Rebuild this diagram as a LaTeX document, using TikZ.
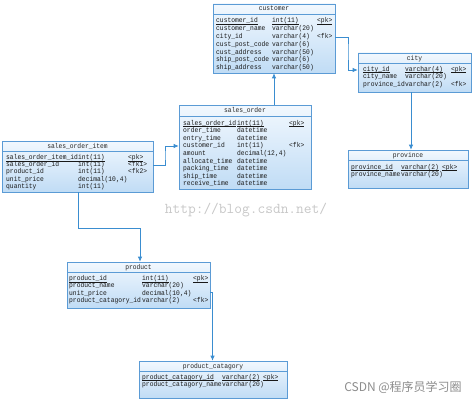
\documentclass[tikz,border=0pt]{standalone}
\usepackage{fontspec}
\newfontfamily\erfont{Liberation Mono}[FakeStretch=0.9]
\newfontfamily\cjkfont{Noto Sans CJK SC}
\usetikzlibrary{arrows.meta,fit}
\definecolor{bordc}{HTML}{5B9BD5}
\definecolor{linec}{HTML}{3A8DD0}
\definecolor{topc}{HTML}{F2F8FE}
\definecolor{botc}{HTML}{C0DCF5}
\newcommand\ul[1]{\underline{\smash{#1}}}
\tikzset{
  tbox/.style={draw=bordc, line width=0.6pt, top color=topc, bottom color=botc, inner sep=0pt},
  ttl/.style={font=\erfont\fontsize{7}{8}\selectfont, inner sep=0pt, anchor=base, text=black!85},
  fld/.style={font=\erfont\fontsize{7}{8}\selectfont, anchor=base west, inner sep=0pt, text=black!90},
  conn/.style={draw=linec, line width=0.7pt, -{Latex[length=5pt,width=4.5pt]}},
  sepl/.style={draw=bordc, line width=0.5pt},
  wmark/.style={inner sep=0pt}
}
% table: name, x1, y1, x2, y2, separator y, title
\newcommand\ertbl[7]{%
  \node[tbox, fit={(#2,#3) (#4,#5)}] (#1) {};
  \draw[sepl] (#2,#6) -- (#4,#6);
  \node[ttl] (#1-title) at ({(#2+#4)/2},{(#3+#6)/2+2}) {#7};}
% row: id, y, xname, xtype, xkey, name, type, key
\newcommand\erow[8]{%
  \node[fld] (#1n) at (#3,{#2+2}) {#6};
  \node[fld] (#1t) at (#4,{#2+2}) {#7};
  \node[fld] (#1k) at (#5,{#2+2}) {#8};}
\begin{document}
\begin{tikzpicture}[x=1pt,y=-1pt]
\useasboundingbox (0,0) rectangle (474,404);

% customer
\ertbl{customer}{213}{4}{335}{73}{14}{customer}
\erow{cu1}{21}{216}{272}{317}{\ul{customer\_id}}{\ul{int(11)}}{\ul{<pk>}}
\erow{cu2}{28.8}{216}{272}{317}{customer\_name}{varchar(20)}{}
\erow{cu3}{36.6}{216}{272}{317}{city\_id}{varchar(4)}{<fk>}
\erow{cu4}{44.4}{216}{272}{317}{cust\_post\_code}{varchar(6)}{}
\erow{cu5}{52.2}{216}{272}{317}{cust\_address}{varchar(50)}{}
\erow{cu6}{60}{216}{272}{317}{ship\_post\_code}{varchar(6)}{}
\erow{cu7}{67.8}{216}{272}{317}{ship\_address}{varchar(50)}{}

% city
\ertbl{city}{358}{53}{471}{92}{63}{city}
\erow{ci1}{69}{363}{405}{451}{\ul{city\_id}}{\ul{varchar(4)}}{\ul{<pk>}}
\erow{ci2}{76.5}{363}{405}{451}{city\_name}{varchar(20)}{}
\erow{ci3}{84}{363}{405}{451}{province\_id}{varchar(2)}{<fk>}

% province
\ertbl{province}{348}{150}{468}{188}{160}{province}
\erow{pv1}{167}{351}{401}{442}{\ul{province\_id}}{\ul{varchar(2)}}{\ul{<pk>}}
\erow{pv2}{174.5}{351}{401}{442}{province\_name}{varchar(20)}{}

% sales_order
\ertbl{salesorder}{179}{105}{311}{189}{116}{sales\_order}
\erow{so1}{123}{183}{237}{289}{\ul{sales\_order\_id}}{\ul{int(11)}}{\ul{<pk>}}
\erow{so2}{130.6}{183}{237}{289}{order\_time}{datetime}{}
\erow{so3}{138.2}{183}{237}{289}{entry\_time}{datetime}{}
\erow{so4}{145.8}{183}{237}{289}{customer\_id}{int(11)}{<fk>}
\erow{so5}{153.4}{183}{237}{289}{amount}{decimal(12,4)}{}
\erow{so6}{161}{183}{237}{289}{allocate\_time}{datetime}{}
\erow{so7}{168.6}{183}{237}{289}{packing\_time}{datetime}{}
\erow{so8}{176.2}{183}{237}{289}{ship\_time}{datetime}{}
\erow{so9}{183.8}{183}{237}{289}{receive\_time}{datetime}{}

% sales_order_item
\ertbl{item}{2}{141}{153}{192}{151}{sales\_order\_item}
\erow{it1}{157.5}{6}{78}{128}{\ul{sales\_order\_item\_id}}{\ul{int(11)}}{\ul{<pk>}}
\erow{it2}{164.7}{6}{78}{128}{sales\_order\_id}{int(11)}{<fk1>}
\erow{it3}{171.9}{6}{78}{128}{product\_id}{int(11)}{<fk2>}
\erow{it4}{179.1}{6}{78}{128}{unit\_price}{decimal(10,4)}{}
\erow{it5}{186.3}{6}{78}{128}{quantity}{int(11)}{}

% product
\ertbl{product}{67}{262}{210}{308}{272}{product}
\erow{pd1}{278.5}{69}{142}{193}{\ul{product\_id}}{\ul{int(11)}}{\ul{<pk>}}
\erow{pd2}{285.8}{69}{142}{193}{product\_name}{varchar(20)}{}
\erow{pd3}{293.1}{69}{142}{193}{unit\_price}{decimal(10,4)}{}
\erow{pd4}{300.4}{69}{142}{193}{product\_catagory\_id}{varchar(2)}{<fk>}

% product_catagory
\ertbl{pcat}{139}{361}{287}{398}{371}{product\_catagory}
\erow{pc1}{377}{142}{222}{263}{\ul{product\_catagory\_id}}{\ul{varchar(2)}}{\ul{<pk>}}
\erow{pc2}{384.5}{142}{222}{263}{product\_catagory\_name}{varchar(20)}{}

% helper coordinates
\coordinate (jog1) at (348,50);
\coordinate (x411) at (411,0);
\coordinate (x274) at (274,0);
\coordinate (jog4) at (165,155);
\coordinate (x78) at (78,0);
\coordinate (jog5) at (140,228);
\coordinate (x212) at (212.5,0);
\coordinate (y37) at (0,37);
\coordinate (y70) at (0,70);
\coordinate (y165) at (0,165);
\coordinate (y146) at (0,146);
\coordinate (y292) at (0,292);

% connectors
\draw[conn] (customer.east |- y37) -| (jog1) |- (city.west |- y70);
\draw[conn] (city.south -| x411) -- (province.north -| x411);
\draw[conn] (salesorder.north -| x274) -- (customer.south -| x274);
\draw[conn] (item.east |- y165) -| (jog4) |- (salesorder.west |- y146);
\draw[conn] (item.south -| x78) |- (jog5) -- (product.north -| jog5);
\draw[conn] (product.east |- y292) -| (pcat.north -| x212);

% watermarks
\node[wmark, font=\ttfamily\fontsize{15}{16}\selectfont, text=black!22] (wm1) at (246,210) {http://blog.csdn.net/};
\node[wmark, font=\cjkfont\fontsize{12}{14}\selectfont, text=black!45] (wm2) at (403,387) {CSDN @程序员学习圈};
\end{tikzpicture}
\end{document}
